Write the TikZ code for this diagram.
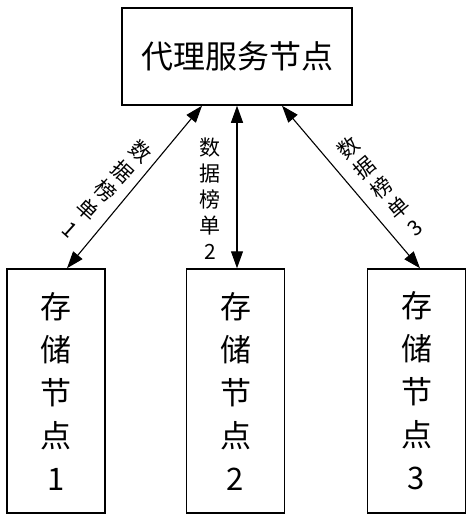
\documentclass[tikz,border=0pt]{standalone}
\usepackage{fontspec}
\setmainfont{Noto Sans CJK SC}
\usetikzlibrary{calc,positioning,arrows.meta}

\begin{document}
\begin{tikzpicture}[x=1pt,y=1pt]
  % requires: \usetikzlibrary{calc,positioning,arrows.meta}
  \tikzset{
    proxyBox/.style={draw, line width=1.5pt, minimum width=230pt, minimum height=97pt, inner sep=0pt, font=\fontsize{32}{36}\selectfont},
    storeBox/.style={draw, line width=1.5pt, minimum width=98pt, minimum height=244pt, inner sep=0pt, align=center, font=\fontsize{31}{43}\selectfont},
    labelBox/.style={draw=none, inner sep=0pt, align=center, font=\fontsize{21}{26}\selectfont},
    linkArrow/.style={line width=1.1pt, {Triangle[length=17pt,width=12pt]}-{Triangle[length=17pt,width=12pt]}}
  }

  % --- Page frame ---
  \useasboundingbox (0,0) rectangle (474,-524);

  % --- Proxy node on top ---
  \node[proxyBox] (proxy) at (237,-56.5) {代理服务节点};

  % --- Storage nodes in one row ---
  \node[storeBox] (store-1) at (56,-391) {存\\储\\节\\点\\1};
  \node[storeBox] (store-2) at (235.5,-391) {存\\储\\节\\点\\2};
  \node[storeBox] (store-3) at (416.5,-391) {存\\储\\节\\点\\3};

  % --- Links ---
  \draw[linkArrow] ([xshift=-35pt]proxy.south) -- ([xshift=11pt]store-1.north);
  \draw[linkArrow] (proxy.south) -- (proxy.south |- store-2.north);
  \draw[linkArrow] ([xshift=45pt]proxy.south) -- ([xshift=3.5pt]store-3.north);

  % --- Link labels, turned along the links ---
  \node[labelBox, rotate=-42] (label-1) at (106,-190) {数\\据\\榜\\单\\1};
  \node[labelBox] (label-2) at (210,-198.5) {数\\据\\榜\\单\\2};
  \node[labelBox, rotate=40] (label-3) at (381,-187) {数\\据\\榜\\单\\3};

\end{tikzpicture}
\end{document}
